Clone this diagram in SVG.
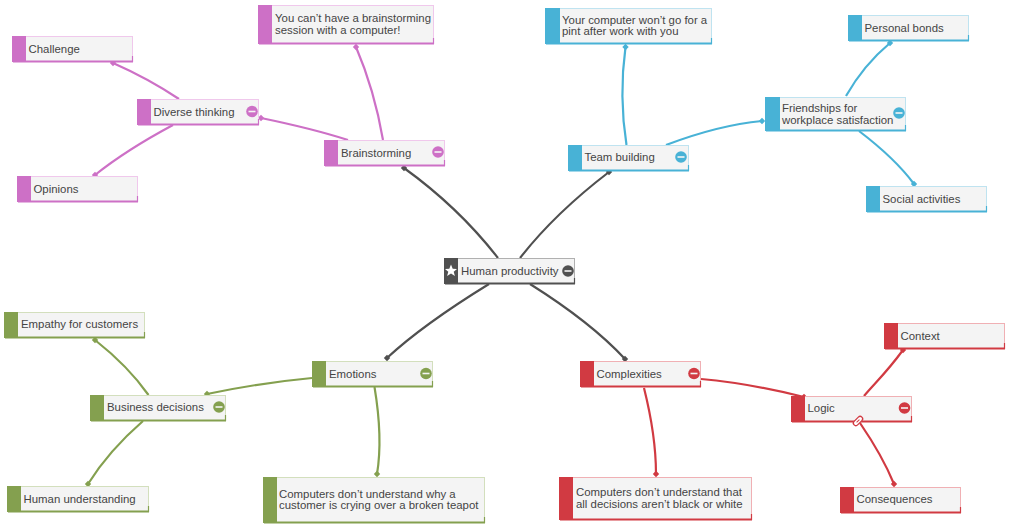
<svg xmlns="http://www.w3.org/2000/svg" width="1024" height="527" viewBox="0 0 1024 527">
<style>
text{font-family:"Liberation Sans",Arial,sans-serif;font-size:11.4px;fill:#444}
.bg{fill:#f4f4f4;stroke-width:1}
.c path{fill:none;stroke-width:2.200}
.k .b,.k .t{stroke:#505050}.k .f{fill:#505050}
.p .b,.p .t{stroke:#cd70c6}.p .f{fill:#cd70c6}
.u .b,.u .t{stroke:#48b2d6}.u .f{fill:#48b2d6}
.g .b,.g .t{stroke:#84a04f}.g .f{fill:#84a04f}
.r .b,.r .t{stroke:#d13a42}.r .f{fill:#d13a42}
.p .bg{stroke:#f0c8ec}.u .bg{stroke:#bfe3f0}.g .bg{stroke:#d3dfbd}.r .bg{stroke:#f0b0b4}.k .bg{stroke:#b0b0b0}
.m{stroke:#f4f4f4;stroke-width:1.600}
.b{stroke-width:2;fill:none}
.t{stroke-width:1.200;fill:none}
</style>
<defs>
<marker id="mk" markerWidth="8" markerHeight="8" refX="4" refY="4" markerUnits="userSpaceOnUse"><polygon points="4,0.800 7.200,4 4,7.200 0.800,4" fill="#505050"/></marker>
<marker id="mp" markerWidth="8" markerHeight="8" refX="4" refY="4" markerUnits="userSpaceOnUse"><polygon points="4,0.800 7.200,4 4,7.200 0.800,4" fill="#cd70c6"/></marker>
<marker id="mu" markerWidth="8" markerHeight="8" refX="4" refY="4" markerUnits="userSpaceOnUse"><polygon points="4,0.800 7.200,4 4,7.200 0.800,4" fill="#48b2d6"/></marker>
<marker id="mg" markerWidth="8" markerHeight="8" refX="4" refY="4" markerUnits="userSpaceOnUse"><polygon points="4,0.800 7.200,4 4,7.200 0.800,4" fill="#84a04f"/></marker>
<marker id="mr" markerWidth="8" markerHeight="8" refX="4" refY="4" markerUnits="userSpaceOnUse"><polygon points="4,0.800 7.200,4 4,7.200 0.800,4" fill="#d13a42"/></marker>
</defs>
<g id="connectors" class="c">
<path stroke="#505050" marker-end="url(#mk)" d="M498 258C470 222 440 194 404 168"/>
<path stroke="#505050" marker-end="url(#mk)" d="M520 258C545 226 575 198 609 172"/>
<path stroke="#505050" marker-end="url(#mk)" d="M489 284C450 308 415 332 387 358"/>
<path stroke="#505050" marker-end="url(#mk)" d="M530 284C565 306 600 332 625 359"/>
<path stroke="#cd70c6" marker-end="url(#mp)" d="M383 140C377 105 368 75 356 47"/>
<path stroke="#cd70c6" marker-end="url(#mp)" d="M348 140C320 131 290 124 261 118"/>
<path stroke="#cd70c6" marker-end="url(#mp)" d="M179 99C158 85 138 74 113 63"/>
<path stroke="#cd70c6" marker-end="url(#mp)" d="M173 125C145 140 120 155 95 175"/>
<path stroke="#48b2d6" marker-end="url(#mu)" d="M626.500 145C621 110 621 80 625.500 47"/>
<path stroke="#48b2d6" marker-end="url(#mu)" d="M666 145C695 134 730 124 762 121"/>
<path stroke="#48b2d6" marker-end="url(#mu)" d="M846 96C858 75 872 58 890 43"/>
<path stroke="#48b2d6" marker-end="url(#mu)" d="M859 131C880 147 900 165 914 184"/>
<path stroke="#84a04f" marker-end="url(#mg)" d="M312 378C280 381 245 386 207 394"/>
<path stroke="#84a04f" marker-end="url(#mg)" d="M374.500 387C380 420 381 450 377 474"/>
<path stroke="#84a04f" marker-end="url(#mg)" d="M148.500 395C133 373 114 355 95 340"/>
<path stroke="#84a04f" marker-end="url(#mg)" d="M143 421C120 441 103 460 88 484"/>
<path stroke="#d13a42" marker-end="url(#mr)" d="M701 379C735 382 772 389 804 397"/>
<path stroke="#d13a42" marker-end="url(#mr)" d="M644 388C652 420 656 450 656 474"/>
<path stroke="#d13a42" marker-end="url(#mr)" d="M864 396C875 383 887 372 903 350"/>
<path stroke="#d13a42" marker-end="url(#mr)" d="M860 423C873 442 885 462 894 484"/>
</g>
<g id="n-root" class="k"><rect class="bg" x="444.500" y="258.500" width="130" height="25"/><rect class="f" x="444" y="258" width="14" height="26"/><path class="b" d="M445 283.500H575"/><path class="t" d="M574.500 278V284"/><polygon fill="#fff" points="451,264.500 452.700,268.800 457,269 453.700,271.800 454.900,276 451,273.600 447.100,276 448.300,271.800 445,269 449.300,268.800"/><text x="461" y="275">Human productivity</text><circle class="f" cx="568" cy="271" r="5.800"/><path class="m" d="M564.500 271H571.500"/></g>
<g id="n-brain" class="p"><rect class="bg" x="324.500" y="140.500" width="120" height="25"/><rect class="f" x="324" y="140" width="14" height="26"/><path class="b" d="M325 165.500H445"/><path class="t" d="M444.500 160V166"/><text x="341" y="157">Brainstorming</text><circle class="f" cx="438" cy="152" r="5.800"/><path class="m" d="M434.500 152H441.500"/></g>
<g id="n-comp" class="p"><rect class="bg" x="258.500" y="5.500" width="175" height="38"/><rect class="f" x="258" y="5" width="14" height="39"/><path class="b" d="M259 43.500H434"/><path class="t" d="M433.500 38V44"/><text x="275" y="22">You can’t have a brainstorming</text><text x="275" y="34">session with a computer!</text></g>
<g id="n-diverse" class="p"><rect class="bg" x="137.500" y="99.500" width="121" height="25"/><rect class="f" x="137" y="99" width="14" height="26"/><path class="b" d="M138 124.500H259"/><path class="t" d="M258.500 119V125"/><text x="153.500" y="116">Diverse thinking</text><circle class="f" cx="252" cy="111.500" r="5.800"/><path class="m" d="M248.500 111.500H255.500"/></g>
<g id="n-challenge" class="p"><rect class="bg" x="12.500" y="36.500" width="120" height="25"/><rect class="f" x="12" y="36" width="14" height="26"/><path class="b" d="M13 61.500H133"/><path class="t" d="M132.500 56V62"/><text x="28.500" y="53">Challenge</text></g>
<g id="n-opinions" class="p"><rect class="bg" x="17.500" y="176.500" width="120" height="25"/><rect class="f" x="17" y="176" width="14" height="26"/><path class="b" d="M18 201.500H138"/><path class="t" d="M137.500 196V202"/><text x="33.500" y="193">Opinions</text></g>
<g id="n-team" class="u"><rect class="bg" x="568.500" y="145.500" width="120" height="25"/><rect class="f" x="568" y="145" width="14" height="26"/><path class="b" d="M569 170.500H689"/><path class="t" d="M688.500 165V171"/><text x="584.500" y="161">Team building</text><circle class="f" cx="681" cy="157" r="5.800"/><path class="m" d="M677.500 157H684.500"/></g>
<g id="n-pint" class="u"><rect class="bg" x="545.500" y="8.500" width="166" height="35"/><rect class="f" x="545" y="8" width="15" height="36"/><path class="b" d="M546 43.500H712"/><path class="t" d="M711.500 38V44"/><text x="562" y="24">Your computer won’t go for a</text><text x="562" y="35">pint after work with you</text></g>
<g id="n-friend" class="u"><rect class="bg" x="765.500" y="97.500" width="140" height="33"/><rect class="f" x="765" y="97" width="15" height="34"/><path class="b" d="M766 130.500H906"/><path class="t" d="M905.500 125V131"/><text x="782" y="112">Friendships for</text><text x="782" y="124">workplace satisfaction</text><circle class="f" cx="899" cy="113" r="5.800"/><path class="m" d="M895.500 113H902.500"/></g>
<g id="n-bonds" class="u"><rect class="bg" x="848.500" y="15.500" width="120" height="25"/><rect class="f" x="848" y="15" width="14" height="26"/><path class="b" d="M849 40.500H969"/><path class="t" d="M968.500 35V41"/><text x="864.500" y="32">Personal bonds</text></g>
<g id="n-social" class="u"><rect class="bg" x="866.500" y="186.500" width="120" height="25"/><rect class="f" x="866" y="186" width="14" height="26"/><path class="b" d="M867 211.500H987"/><path class="t" d="M986.500 206V212"/><text x="882.500" y="203">Social activities</text></g>
<g id="n-emotions" class="g"><rect class="bg" x="312.500" y="361.500" width="120" height="25"/><rect class="f" x="312" y="361" width="14" height="26"/><path class="b" d="M313 386.500H433"/><path class="t" d="M432.500 381V387"/><text x="329" y="378">Emotions</text><circle class="f" cx="426" cy="373.500" r="5.800"/><path class="m" d="M422.500 373.500H429.500"/></g>
<g id="n-business" class="g"><rect class="bg" x="90.500" y="395.500" width="135" height="25"/><rect class="f" x="90" y="395" width="14" height="26"/><path class="b" d="M91 420.500H226"/><path class="t" d="M225.500 415V421"/><text x="107" y="411">Business decisions</text><circle class="f" cx="219" cy="407" r="5.800"/><path class="m" d="M215.500 407H222.500"/></g>
<g id="n-empathy" class="g"><rect class="bg" x="4.500" y="312.500" width="140" height="25"/><rect class="f" x="4" y="312" width="14" height="26"/><path class="b" d="M5 337.500H145"/><path class="t" d="M144.500 332V338"/><text x="21" y="328">Empathy for customers</text></g>
<g id="n-human" class="g"><rect class="bg" x="7.500" y="486.500" width="141" height="25"/><rect class="f" x="7" y="486" width="14" height="26"/><path class="b" d="M8 511.500H149"/><path class="t" d="M148.500 506V512"/><text x="23.500" y="503">Human understanding</text></g>
<g id="n-teapot" class="g"><rect class="bg" x="263.500" y="477.500" width="221" height="45"/><rect class="f" x="263" y="477" width="14" height="46"/><path class="b" d="M264 522.500H485"/><path class="t" d="M484.500 517V523"/><text x="279" y="497.500">Computers don’t understand why a</text><text x="279" y="509">customer is crying over a broken teapot</text></g>
<g id="n-complex" class="r"><rect class="bg" x="580.500" y="361.500" width="120" height="25"/><rect class="f" x="580" y="361" width="14" height="26"/><path class="b" d="M581 386.500H701"/><path class="t" d="M700.500 381V387"/><text x="596.500" y="378">Complexities</text><circle class="f" cx="694" cy="373.500" r="5.800"/><path class="m" d="M690.500 373.500H697.500"/></g>
<g id="n-bw" class="r"><rect class="bg" x="559.500" y="477.500" width="192" height="42"/><rect class="f" x="559" y="477" width="14" height="43"/><path class="b" d="M560 519.500H752"/><path class="t" d="M751.500 514V520"/><text x="576" y="496">Computers don’t understand that</text><text x="576" y="507.500">all decisions aren’t black or white</text></g>
<g id="n-logic" class="r"><rect class="bg" x="791.500" y="396.500" width="120" height="25"/><rect class="f" x="791" y="396" width="14" height="26"/><path class="b" d="M792 421.500H912"/><path class="t" d="M911.500 416V422"/><text x="807.500" y="412">Logic</text><circle class="f" cx="904.500" cy="408" r="5.800"/><path class="m" d="M901 408H908"/><g transform="rotate(-45 858 421)"><rect x="852.500" y="418.500" width="11" height="5" rx="2.500" fill="#fff" stroke="#d13a42" stroke-width="1.300"/><path d="M856 421H860" stroke="#d13a42" stroke-width="1"/></g></g>
<g id="n-context" class="r"><rect class="bg" x="884.500" y="323.500" width="120" height="25"/><rect class="f" x="884" y="323" width="14" height="26"/><path class="b" d="M885 348.500H1005"/><path class="t" d="M1004.500 343V349"/><text x="900.500" y="340">Context</text></g>
<g id="n-conseq" class="r"><rect class="bg" x="840.500" y="487.500" width="120" height="25"/><rect class="f" x="840" y="487" width="14" height="26"/><path class="b" d="M841 512.500H961"/><path class="t" d="M960.500 507V513"/><text x="856.500" y="503">Consequences</text></g>
</svg>
